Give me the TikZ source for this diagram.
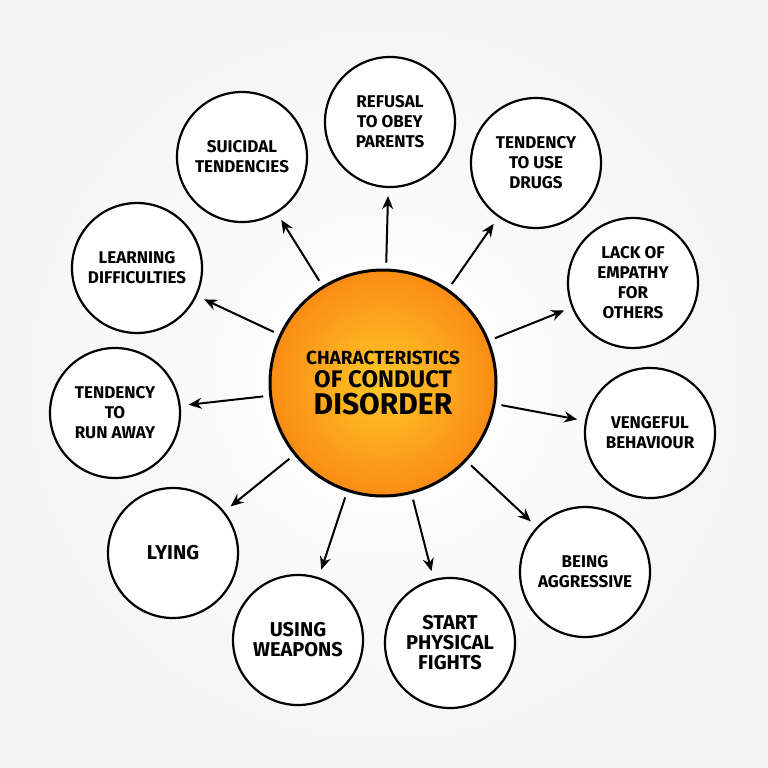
\documentclass[tikz,border=0pt]{standalone}
\usepackage{fontspec}
\setmainfont{Fira Sans}
\usetikzlibrary{arrows.meta}
\definecolor{ctrin}{RGB}{255,200,40}
\definecolor{ctrout}{RGB}{250,140,20}
\begin{document}
\begin{tikzpicture}[x=1pt,y=-1pt,
 outer/.style={circle,draw=black,line width=2.2pt,fill=white,minimum size=130pt,inner sep=0pt,align=center,font=\fontsize{17}{20}\selectfont\bfseries},
 conn/.style={-{Stealth[length=13pt,width=11pt]},line width=2pt,shorten <=6pt,shorten >=8pt}]
\shade[inner color=white,outer color=gray!8] (0,0) rectangle (768,768);
\useasboundingbox (0,0) rectangle (768,768);
\node[circle,draw=black,line width=3pt,minimum size=226pt,inner color=ctrin,outer color=ctrout,align=center,font=\bfseries] (c) at (383,383) {{\fontsize{19}{22}\selectfont CHARACTERISTICS}\\[4pt]{\fontsize{24}{26}\selectfont OF CONDUCT}\\[4pt]{\fontsize{30}{32}\selectfont DISORDER}};
\node[outer] (a1) at (390,122) {REFUSAL\\TO OBEY\\PARENTS};
\node[outer] (a2) at (536,163) {TENDENCY\\TO USE\\DRUGS};
\node[outer] (a3) at (633,283) {LACK OF\\EMPATHY\\FOR\\OTHERS};
\node[outer] (a4) at (650,433) {VENGEFUL\\BEHAVIOUR};
\node[outer] (a5) at (585,572) {BEING\\AGGRESSIVE};
\node[outer] (a6) at (450,643) {\fontsize{20}{22}\selectfont START\\\fontsize{20}{22}\selectfont PHYSICAL\\\fontsize{20}{22}\selectfont FIGHTS};
\node[outer] (a7) at (298,640) {\fontsize{20}{22}\selectfont USING\\\fontsize{20}{22}\selectfont WEAPONS};
\node[outer] (a8) at (173,553) {\fontsize{20}{22}\selectfont LYING};
\node[outer] (a9) at (115,413) {TENDENCY\\TO\\RUN AWAY};
\node[outer] (a10) at (137,268) {LEARNING\\DIFFICULTIES};
\node[outer] (a11) at (242,157) {SUICIDAL\\TENDENCIES};
\foreach \i in {1,...,11}{\draw[conn] (c) -- (a\i);}
\end{tikzpicture}
\end{document}
